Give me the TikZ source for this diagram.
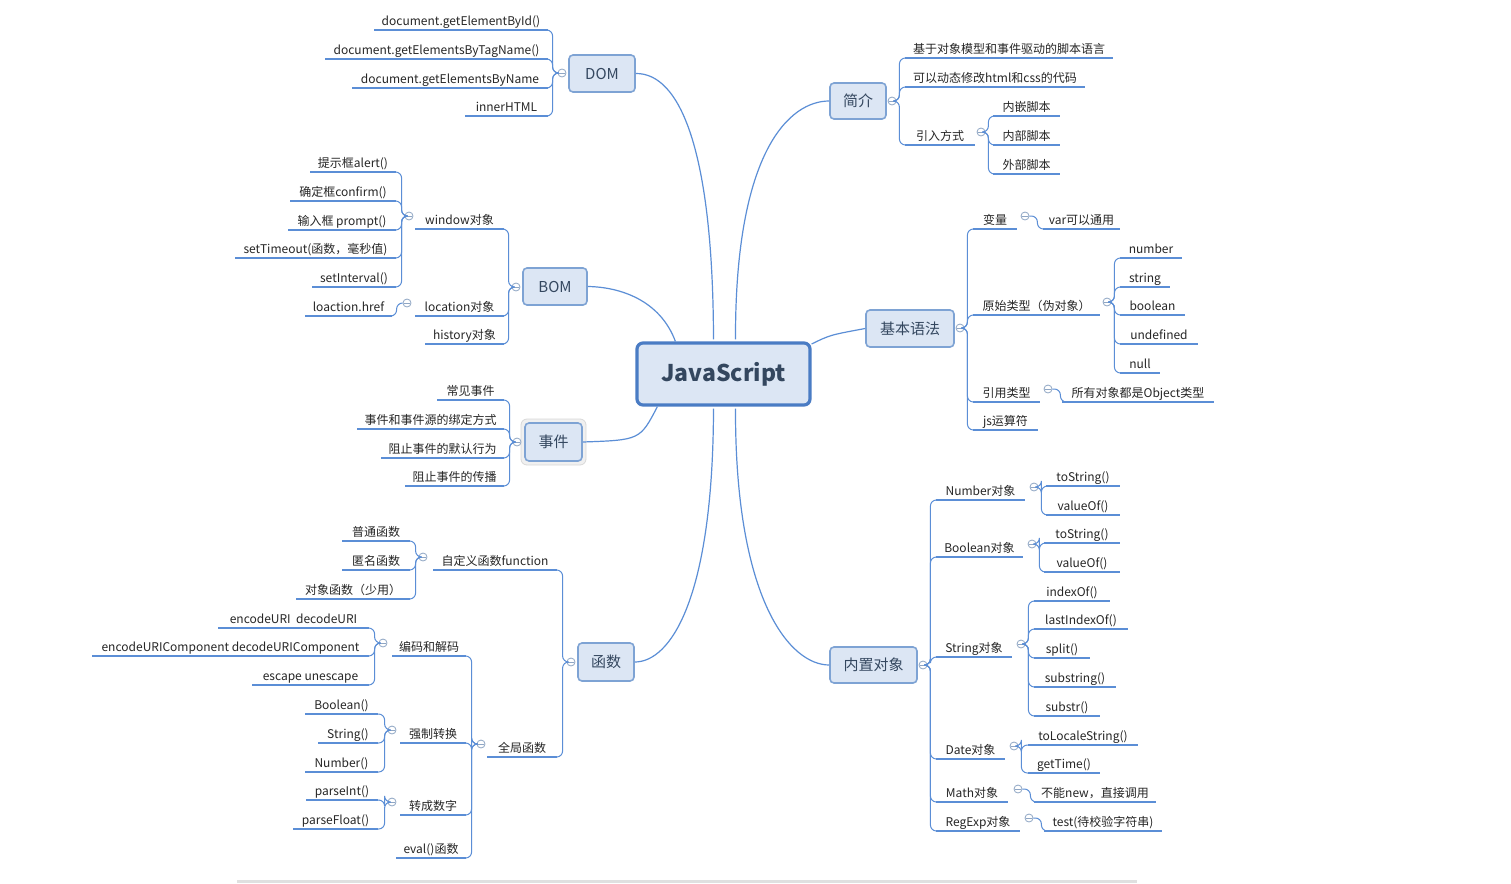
\documentclass[tikz,border=0pt]{standalone}
\usepackage{fontspec}
\setmainfont{Noto Sans CJK SC}
\definecolor{ln}{HTML}{5B8ED6}
\definecolor{bf}{HTML}{DCE6F4}
\definecolor{bb}{HTML}{7EA3D4}
\definecolor{tc}{HTML}{34475F}
\definecolor{cg}{HTML}{8FA6C4}
\tikzset{
 lnst/.style={draw=ln,line width=0.6pt},
 conn/.style={draw=ln,line width=0.5pt,rounded corners=3pt},
 lt/.style={anchor=base,inner sep=0pt,font=\fontsize{6}{7}\selectfont,text=black!85},
 box/.style={draw=bb,fill=bf,rounded corners=2pt,line width=0.8pt,text=tc,font=\fontsize{7.5}{9}\selectfont,inner sep=0pt},
 circ/.style={circle,draw=cg,fill=white,minimum size=4pt,inner sep=0pt,line width=0.4pt,
   path picture={\draw[cg,line width=0.4pt] ([xshift=-1.3pt]path picture bounding box.center) -- ([xshift=1.3pt]path picture bounding box.center);}},
}
\newcommand\lf[5]{\draw[lnst] (#2,#4) coordinate (#1-l) -- (#3,#4) coordinate (#1-r); \node[lt] (#1) at ({(#2+#3)/2},{#4-5}) {#5};}
\newcommand\cc[3]{\node[circ] (#1) at (#2,#3) {};}
\newcommand\cR[3]{\draw[conn] (#1.east) -- ++(#2,0) |- (#3-l);}
\newcommand\cL[3]{\draw[conn] (#1.west) -- ++(-#2,0) |- (#3-r);}
\begin{document}
\begin{tikzpicture}[x=0.5pt,y=-0.5pt]
\useasboundingbox[fill=white] (0,0) rectangle (1511,884);
\draw[black!12,line width=1.5pt] (237,881) -- (1137,881);
% central
\node[draw={rgb,255:red,74;green,124;blue,196},fill=bf,rounded corners=3pt,line width=1.6pt,minimum width=86.5pt,minimum height=31pt,text=tc,font=\fontsize{11.5}{13}\selectfont\bfseries] (js) at (723.5,374) {JavaScript};
% topics
\node[box,minimum width=33pt,minimum height=18.5pt] (dom) at (602,73.5) {DOM};
\node[box,minimum width=28pt,minimum height=18pt] (jj) at (858,101) {简介};
\node[box,minimum width=44pt,minimum height=18.5pt] (jb) at (910,328.5) {基本语法};
\node[box,minimum width=43.5pt,minimum height=18pt] (nz) at (873.5,665) {内置对象};
\node[box,minimum width=32pt,minimum height=18.5pt] (bom) at (555,286.5) {BOM};
\node[draw=black!15,fill=black!6,rounded corners=3pt,minimum width=32.5pt,minimum height=23pt] (sjh) at (553.5,442) {};
\node[box,minimum width=28.5pt,minimum height=19pt] (sj) at (553.5,442) {事件};
\node[box,minimum width=28pt,minimum height=19pt] (hs) at (606,662) {函数};
% main curves
\draw[lnst] (js.north) ++(-10,-2) .. controls (713,150) and (680,73) .. (dom.east);
\draw[lnst] (js.north) ++(12,-2) .. controls (735,150) and (790,101) .. (jj.west);
\draw[lnst] (js.north west) ++(40,0) .. controls (660,300) and (620,287) .. (bom.east);
\draw[lnst] (js.east) ++(0,-30) .. controls (830,335) .. (jb.west);
\draw[lnst] (js.south west) ++(22,0) .. controls (640,440) .. (sj.east);
\draw[lnst] (js.south) ++(-10,2) .. controls (713,600) and (670,662) .. (hs.east);
\draw[lnst] (js.south) ++(12,2) .. controls (735,600) and (790,665) .. (nz.west);
% DOM
\lf{d1}{374}{548}{30}{document.getElementById()}
\lf{d2}{325}{548}{59}{document.getElementsByTagName()}
\lf{d3}{352}{548}{88}{document.getElementsByName}
\lf{d4}{465}{548}{116}{innerHTML}
\cc{cdom}{562}{73}
\foreach \k in {d1,d2,d3,d4}{\cL{cdom}{5}{\k}}
% 简介
\lf{j1}{905}{1113}{58}{基于对象模型和事件驱动的脚本语言}
\lf{j2}{905}{1085}{87}{可以动态修改html和css的代码}
\lf{j3}{905}{975}{145}{引入方式}
\lf{j31}{993}{1060}{116}{内嵌脚本}
\lf{j32}{993}{1060}{145}{内部脚本}
\lf{j33}{993}{1060}{174}{外部脚本}
\cc{cjj}{892}{101}
\foreach \k in {j1,j2,j3}{\cR{cjj}{3}{\k}}
\cc{cj3}{981}{132}
\foreach \k in {j31,j32,j33}{\cR{cj3}{3}{\k}}
% 基本语法
\lf{b1}{973}{1017}{229}{变量}
\lf{b11}{1043}{1120}{229}{var可以通用}
\lf{b2}{973}{1100}{315}{原始类型（伪对象）}
\lf{b21}{1120}{1182}{258}{number}
\lf{b22}{1120}{1170}{287}{string}
\lf{b23}{1120}{1185}{315}{boolean}
\lf{b24}{1120}{1198}{344}{undefined}
\lf{b25}{1120}{1160}{373}{null}
\lf{b3}{973}{1040}{402}{引用类型}
\lf{b31}{1062}{1214}{402}{所有对象都是Object类型}
\lf{b4}{973}{1038}{430}{js运算符}
\cc{cjb}{960}{328}
\foreach \k in {b1,b2,b3,b4}{\cR{cjb}{3}{\k}}
\cc{cb1}{1025}{216}
\cR{cb1}{8}{b11}
\cc{cb2}{1107}{302}
\foreach \k in {b21,b22,b23,b24,b25}{\cR{cb2}{3}{\k}}
\cc{cb3}{1048}{389}
\cR{cb3}{8}{b31}
% 内置对象
\lf{n1}{936}{1025}{500}{Number对象}
\lf{n11}{1046}{1120}{486}{toString()}
\lf{n12}{1046}{1120}{515}{valueOf()}
\lf{n2}{936}{1023}{557}{Boolean对象}
\lf{n21}{1044}{1120}{543}{toString()}
\lf{n22}{1044}{1120}{572}{valueOf()}
\lf{n3}{936}{1012}{657}{String对象}
\lf{n31}{1034}{1110}{601}{indexOf()}
\lf{n32}{1034}{1128}{629}{lastIndexOf()}
\lf{n33}{1034}{1090}{658}{split()}
\lf{n34}{1034}{1116}{687}{substring()}
\lf{n35}{1034}{1100}{716}{substr()}
\lf{n4}{936}{1005}{759}{Date对象}
\lf{n41}{1028}{1138}{745}{toLocaleString()}
\lf{n42}{1028}{1100}{773}{getTime()}
\lf{n5}{936}{1008}{802}{Math对象}
\lf{n51}{1034}{1156}{802}{不能new，直接调用}
\lf{n6}{936}{1020}{831}{RegExp对象}
\lf{n61}{1044}{1162}{831}{test(待校验字符串)}
\cc{cnz}{923}{665}
\foreach \k in {n1,n2,n3,n4,n5,n6}{\cR{cnz}{3}{\k}}
\cc{cn1}{1034}{487}
\foreach \k in {n11,n12}{\cR{cn1}{3}{\k}}
\cc{cn2}{1032}{544}
\foreach \k in {n21,n22}{\cR{cn2}{3}{\k}}
\cc{cn3}{1021}{644}
\foreach \k in {n31,n32,n33,n34,n35}{\cR{cn3}{3}{\k}}
\cc{cn4}{1014}{746}
\foreach \k in {n41,n42}{\cR{cn4}{3}{\k}}
\cc{cn5}{1018}{789}
\cR{cn5}{8}{n51}
\cc{cn6}{1029}{818}
\cR{cn6}{8}{n61}
% BOM
\lf{w1}{415}{504}{229}{window对象}
\lf{w11}{310}{396}{172}{提示框alert()}
\lf{w12}{290}{396}{201}{确定框confirm()}
\lf{w13}{288}{396}{230}{输入框 prompt()}
\lf{w14}{235}{396}{258}{setTimeout(函数，毫秒值)}
\lf{w15}{312}{396}{287}{setInterval()}
\lf{w2}{415}{504}{316}{location对象}
\lf{w21}{305}{392}{316}{loaction.href}
\lf{w3}{425}{504}{344}{history对象}
\cc{cbom}{516}{287}
\foreach \k in {w1,w2,w3}{\cL{cbom}{3}{\k}}
\cc{cw1}{409}{216}
\foreach \k in {w11,w12,w13,w14,w15}{\cL{cw1}{3}{\k}}
\cc{cw2}{407}{303}
\cL{cw2}{6}{w21}
% 事件
\lf{s1}{437}{504}{400}{常见事件}
\lf{s2}{357}{504}{429}{事件和事件源的绑定方式}
\lf{s3}{381}{504}{458}{阻止事件的默认行为}
\lf{s4}{405}{504}{486}{阻止事件的传播}
\cc{csj}{517}{442}
\foreach \k in {s1,s2,s3,s4}{\cL{csj}{3}{\k}}
% 函数
\lf{h1}{433}{557}{570}{自定义函数function}
\lf{h11}{342}{410}{541}{普通函数}
\lf{h12}{342}{410}{570}{匿名函数}
\lf{h13}{296}{410}{599}{对象函数（少用）}
\lf{h2}{487}{557}{757}{全局函数}
\lf{h21}{392}{466}{656}{编码和解码}
\lf{h211}{218}{369}{628}{encodeURI\ \ decodeURI}
\lf{h212}{92}{369}{656}{encodeURIComponent decodeURIComponent}
\lf{h213}{252}{369}{685}{escape unescape}
\lf{h22}{400}{466}{743}{强制转换}
\lf{h221}{305}{378}{714}{Boolean()}
\lf{h222}{318}{378}{743}{String()}
\lf{h223}{305}{378}{772}{Number()}
\lf{h23}{400}{466}{815}{转成数字}
\lf{h231}{306}{378}{800}{parseInt()}
\lf{h232}{293}{378}{829}{parseFloat()}
\lf{h24}{396}{466}{858}{eval()函数}
\cc{chs}{571}{662}
\foreach \k in {h1,h2}{\cL{chs}{4}{\k}}
\cc{ch1}{423}{557}
\foreach \k in {h11,h12,h13}{\cL{ch1}{3}{\k}}
\cc{ch2}{481}{744}
\foreach \k in {h21,h22,h23,h24}{\cL{ch2}{5}{\k}}
\cc{ch21}{383}{643}
\foreach \k in {h211,h212,h213}{\cL{ch21}{4}{\k}}
\cc{ch22}{392}{730}
\foreach \k in {h221,h222,h223}{\cL{ch22}{3}{\k}}
\cc{ch23}{392}{802}
\foreach \k in {h231,h232}{\cL{ch23}{3}{\k}}
\end{tikzpicture}
\end{document}
